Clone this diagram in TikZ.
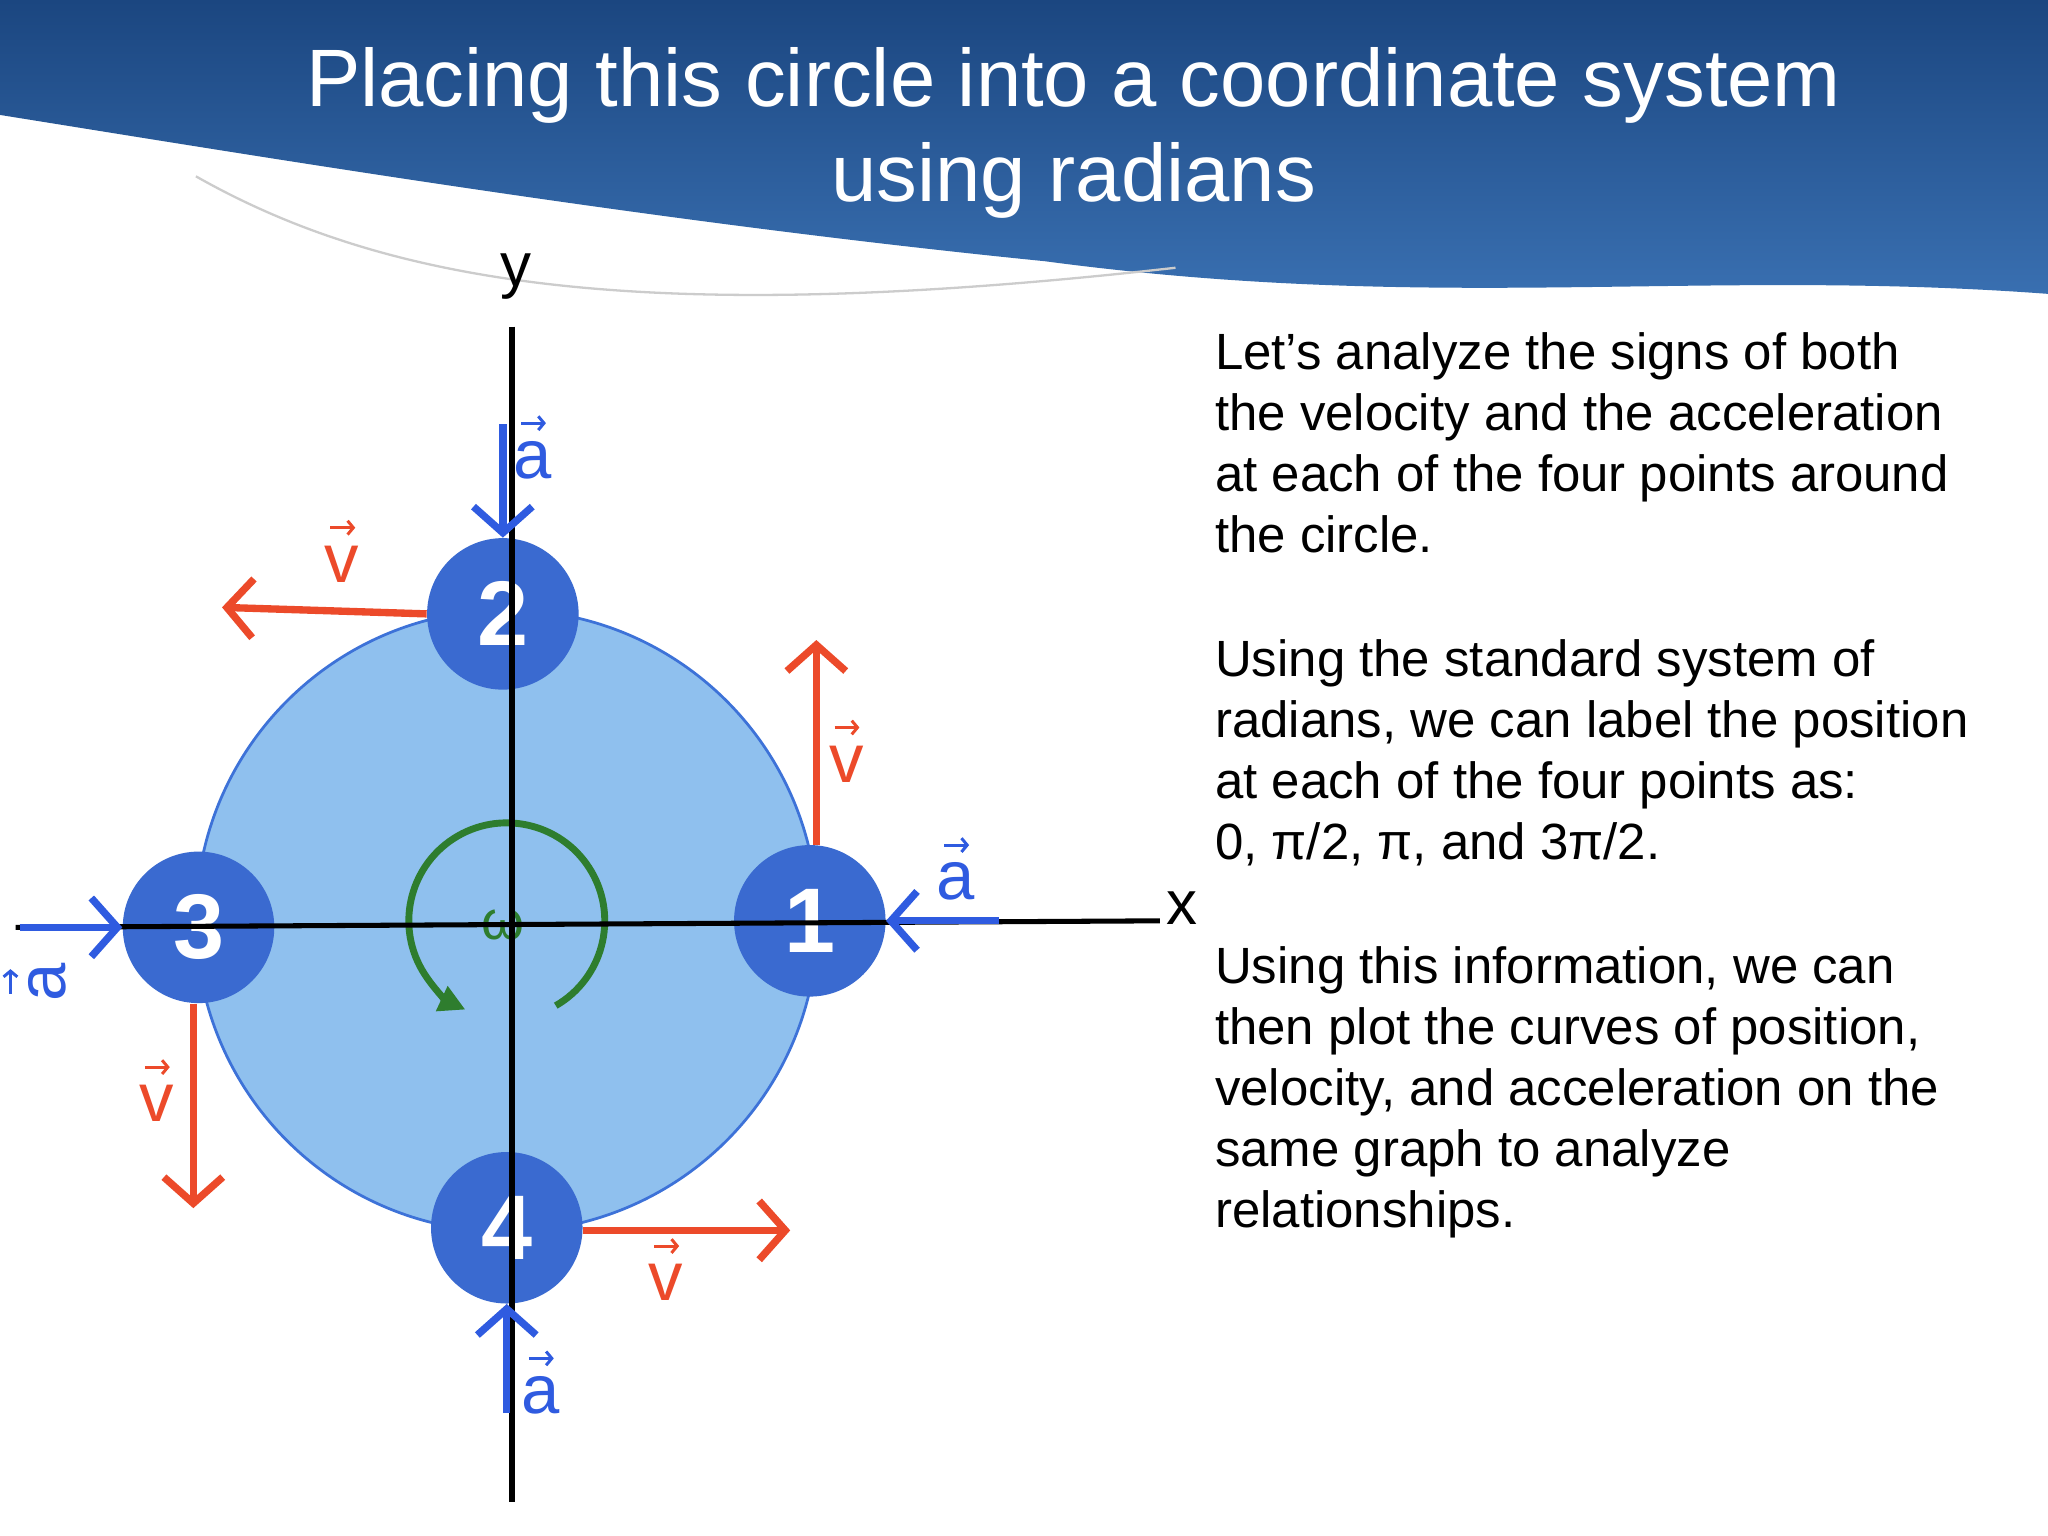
\documentclass[tikz,border=0pt]{standalone}
\usepackage{fontspec}
\setmainfont{Liberation Sans}
\usetikzlibrary{arrows.meta}
\definecolor{hdark}{HTML}{1B4680}
\definecolor{hlight}{HTML}{3B72B4}
\definecolor{disk}{HTML}{8FC0EE}
\definecolor{diskb}{HTML}{3D72D8}
\definecolor{ptc}{HTML}{3A6AD0}
\definecolor{vred}{HTML}{EC4A2A}
\definecolor{ablue}{HTML}{2F5BE0}
\definecolor{omg}{HTML}{2E7D2E}
% \veclab{name}{x,y}{letter}{colour}{rotation}
\newcommand{\veclab}[5]{%
  \begin{scope}[shift={(#2)},rotate=#5]
    \node[text=#4,inner sep=0pt,anchor=base,rotate=#5,font=\fontsize{30}{30}\selectfont] (#1) at (0,14) {#3};
    \draw[#4,line width=1.3pt,-{Straight Barb[length=2.5pt,width=6pt]}] (-9,-28) -- (10,-28);
  \end{scope}}
\tikzset{
  pt/.style={circle,fill=ptc,minimum size=116*0.02cm,inner sep=0pt,text=white,font=\fontsize{40}{40}\selectfont\bfseries},
  varr/.style={draw=vred,line width=3.2pt,-{Straight Barb[length=4mm,width=9mm,line width=3.2pt]}},
  aarr/.style={draw=ablue,line width=3.2pt,-{Straight Barb[length=4mm,width=9mm,line width=3.2pt]}},
  axis/.style={line width=2.2pt,black},
  body/.style={anchor=north west,align=left,font=\fontsize{22.2}{26.6}\selectfont,inner sep=0pt}
}
\begin{document}
\begin{tikzpicture}[x=0.02cm,y=-0.02cm]
\useasboundingbox (0,0) rectangle (1568,1176);
\fill[white] (0,0) rectangle (1568,1176);
% header
\shade[top color=hdark,bottom color=hlight] (0,0) -- (1568,0) -- (1568,225) .. controls (1300,205) and (1100,240) .. (800,200) .. controls (500,170) and (200,120) .. (0,88) -- cycle;
\draw[gray!40,line width=1pt] (150,135) .. controls (300,220) and (500,250) .. (900,205);
\node[text=white,align=center,font=\fontsize{35.5}{41.5}\selectfont] (title) at (822,102) {Placing this circle into a coordinate system\\using radians};
% disk
\node[circle,fill=disk,draw=diskb,line width=1.2pt,minimum size=476*0.02cm,inner sep=0pt] (disk) at (388,705) {};
% omega
\draw[omg,line width=3pt,-{Triangle[length=4mm,width=4mm]}] (388,705) ++(60:75) arc[start angle=60,end angle=-245,radius=75];
% axes
\coordinate (xl) at (12,710); \coordinate (xr) at (888,705);
\coordinate (yt) at (392,250); \coordinate (yb) at (392,1150);
% points
\node[pt] (p1) at (620,705) {1};
\node[pt] (p2) at (385,470) {2};
\node[pt] (p3) at (152,710) {3};
\node[pt] (p4) at (388,940) {4};
\node[text=omg,font=\fontsize{24}{24}\selectfont] (w) at (385,708) {ω};
\draw[axis] (xl) -- (xr);
\draw[axis] (yt) -- (yb);
\node[font=\fontsize{27}{27}\selectfont] (xlab) at (905,695) {x};
\node[font=\fontsize{27}{27}\selectfont] (ylab) at (395,212) {y};
% velocity arrows
\coordinate (v1) at (625,490); \coordinate (v2) at (170,465);
\coordinate (v3) at (148,925); \coordinate (v4) at (605,942);
\draw[varr] (p1.north) ++(5,0) -- (v1);
\draw[varr] (p2.west) -- (v2);
\draw[varr] (p3.south) ++(-4,0) -- (v3);
\draw[varr] (p4.east) ++(0,2) -- (v4);
\veclab{lv1}{648,585}{v}{vred}{0}
\veclab{lv2}{262,432}{v}{vred}{0}
\veclab{lv3}{120,845}{v}{vred}{0}
\veclab{lv4}{510,982}{v}{vred}{0}
% acceleration arrows
\coordinate (a1) at (765,705); \coordinate (a2) at (385,325);
\coordinate (a3) at (15,710); \coordinate (a4) at (388,1082);
\draw[aarr] (a1) -- (p1.east);
\draw[aarr] (a2) -- (p2.north);
\draw[aarr] (a3) -- (p3.west);
\draw[aarr] (a4) -- (p4.south);
\veclab{la1}{732,675}{a}{ablue}{0}
\veclab{la2}{408,352}{a}{ablue}{0}
\veclab{la3}{36,752}{a}{ablue}{90}
\veclab{la4}{414,1068}{a}{ablue}{0}
% text
\node[body] (t1) at (930,254) {Let’s analyze the signs of both\\the velocity and the acceleration\\at each of the four points around\\the circle.};
\node[body] (t2) at (930,489) {Using the standard system of\\radians, we can label the position\\at each of the four points as:\\0, π/2, π, and 3π/2.};
\node[body] (t3) at (930,724) {Using this information, we can\\then plot the curves of position,\\velocity, and acceleration on the\\same graph to analyze\\relationships.};
\end{tikzpicture}
\end{document}
